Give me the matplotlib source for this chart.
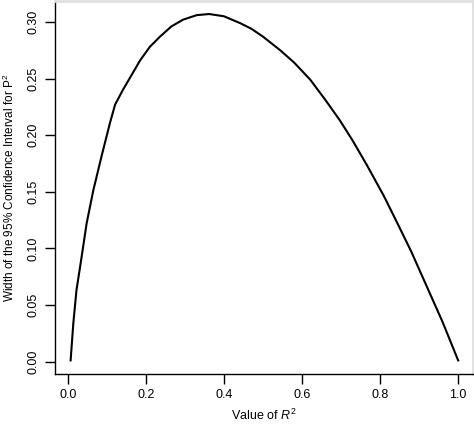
import matplotlib
matplotlib.use("Agg")
import matplotlib.pyplot as plt

# values
r2 = [0.007, 0.014, 0.022, 0.035, 0.048, 0.065, 0.086, 0.108, 0.121, 0.141,
      0.185, 0.210, 0.236, 0.265, 0.295, 0.330, 0.362, 0.400, 0.441, 0.470,
      0.500, 0.544, 0.580, 0.621, 0.660, 0.697, 0.730, 0.767, 0.810, 0.846,
      0.880, 0.920, 0.960, 1.000]
width = [0.001, 0.034, 0.063, 0.092, 0.122, 0.151, 0.181, 0.211, 0.227, 0.240,
         0.266, 0.278, 0.287, 0.296, 0.302, 0.306, 0.307, 0.305, 0.299, 0.294,
         0.287, 0.275, 0.264, 0.249, 0.231, 0.213, 0.195, 0.173, 0.146, 0.121,
         0.097, 0.066, 0.035, 0.001]

xticks = [0.0, 0.2, 0.4, 0.6, 0.8, 1.0]
yticks = [0.00, 0.05, 0.10, 0.15, 0.20, 0.25, 0.30]

plt.rcParams['font.family'] = ['Liberation Sans', 'DejaVu Sans']
plt.rcParams['mathtext.fontset'] = 'custom'
plt.rcParams['mathtext.rm'] = 'Liberation Sans'
plt.rcParams['mathtext.it'] = 'Liberation Sans:italic'

fig = plt.figure(figsize=(4.74, 4.24), dpi=100)
ax = fig.add_axes([55 / 474, 50 / 424, 418 / 474, 373 / 424])

ax.plot(r2, width, color='black', linewidth=1.5, solid_joinstyle='round')

ax.set_xlim(-0.033, 1.038)
ax.set_ylim(-0.011, 0.3185)
ax.set_xticks(xticks)
ax.set_xticklabels(['%.1f' % v for v in xticks])
ax.set_yticks(yticks)
ax.set_yticklabels(['%.2f' % v for v in yticks], rotation=90, va='center')
ax.tick_params(direction='out', length=7, width=1, labelsize=9, pad=4)

for s in ['left', 'bottom']:
    ax.spines[s].set_color('black')
    ax.spines[s].set_linewidth(1)
for s in ['top', 'right']:
    ax.spines[s].set_color('#e0e0e0')
    ax.spines[s].set_linewidth(2)

ax.set_xlabel('Value of $R^2$', fontsize=9, labelpad=5)
ax.set_ylabel('Width of the 95% Confidence Interval for P$^2$', fontsize=8.5,
              labelpad=8)

fig.savefig('out.png', dpi=100)
